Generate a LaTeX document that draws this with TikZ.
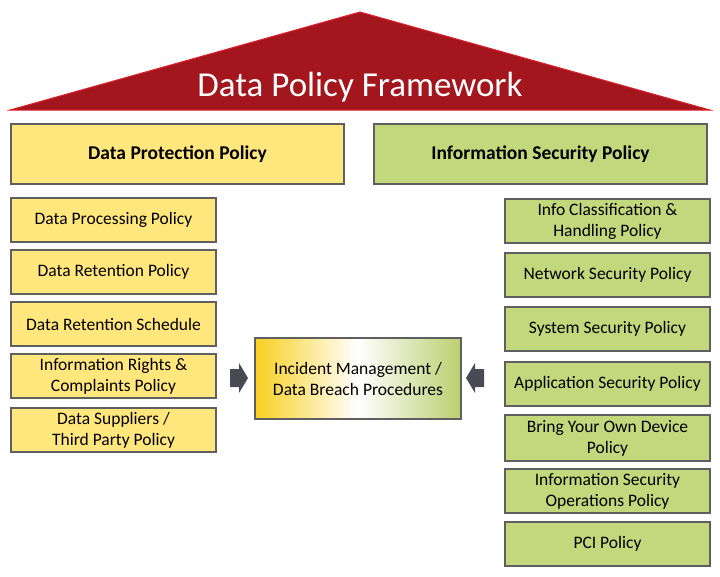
\documentclass[tikz,border=0pt]{standalone}
\usepackage{fontspec}
\setmainfont{Carlito}
\definecolor{roof}{HTML}{A3161E}
\definecolor{roofedge}{HTML}{E0202A}
\definecolor{yel}{HTML}{FFE77D}
\definecolor{gold}{HTML}{F8D020}
\definecolor{grn}{HTML}{C3D77C}
\definecolor{bord}{HTML}{5F5F5F}
\definecolor{arr}{HTML}{4A4A55}
\begin{document}
\begin{tikzpicture}[x=1pt,y=-1pt,
  box/.style={draw=bord,line width=1.6pt,align=center,font=\fontsize{17.5}{21}\selectfont},
  yb/.style={box,fill=yel},
  gb/.style={box,fill=grn}]
\useasboundingbox (0,0) rectangle (720,576);
\fill[white] (0,0) rectangle (720,576);
\draw[fill=roof,draw=roofedge,line width=1pt] (10,110) -- (360,12) -- (710,110) -- cycle;
\node[text=white,font=\fontsize{35}{40}\selectfont] (title) at (360,87) {Data Policy Framework};
\node[yb,minimum width=333pt,minimum height=60pt,font=\fontsize{19.5}{22}\selectfont\bfseries] (dpp) at (177.5,154) {Data Protection Policy};
\node[gb,minimum width=333pt,minimum height=60pt,font=\fontsize{19.5}{22}\selectfont\bfseries] (isp) at (540.5,154) {Information Security Policy};
\foreach \n/\y/\t in {l1/220/Data Processing Policy,l2/272/Data Retention Policy,l3/324/Data Retention Schedule,l4/376/{Information Rights \&\\Complaints Policy},l5/430/{Data Suppliers /\\Third Party Policy}}
  \node[yb,minimum width=205pt,minimum height=44pt,inner sep=1pt] (\n) at (113.5,\y) {\t};
\foreach \n/\y/\t/\h in {r1/221/{Info Classification \&\\Handling Policy}/44,r2/275/Network Security Policy/44,r3/329/System Security Policy/44,r4/384/Application Security Policy/44,r5/438/{Bring Your Own Device\\Policy}/46,r6/491/{Information Security\\Operations Policy}/44,r7/544/PCI Policy/44}
  \node[gb,minimum width=205pt,minimum height=\h pt,inner sep=1pt] (\n) at (607.5,\y) {\t};
\shade[left color=gold, right color=grn!90!olive, middle color=white] (255,337) rectangle (461,418);
\node[draw=bord,line width=1.6pt,minimum width=206pt,minimum height=81pt,align=center,font=\fontsize{17.5}{21}\selectfont] (ctr) at (358,378.5) {Incident Management /\\Data Breach Procedures};
\fill[arr] (230,369) -- (239,369) -- (239,363) -- (248,378) -- (239,393) -- (239,387) -- (230,387) -- cycle;
\fill[arr] (484,369) -- (475,369) -- (475,363) -- (466,378) -- (475,393) -- (475,387) -- (484,387) -- cycle;
\end{tikzpicture}
\end{document}
